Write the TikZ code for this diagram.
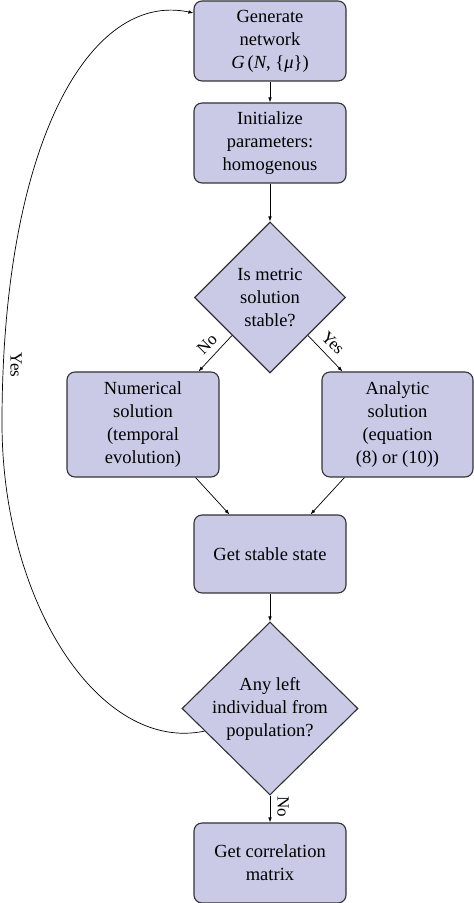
\documentclass[tikz,border=0pt]{standalone}
\usepackage{fontspec}
\setmainfont{Liberation Serif}
\usetikzlibrary{shapes.geometric,arrows.meta,calc}
\definecolor{boxfill}{RGB}{202,202,230}
\definecolor{boxline}{RGB}{50,50,55}
\begin{document}
\begin{tikzpicture}[x=1pt, y=1pt,
    every node/.style={font=\fontsize{18.5}{23}\selectfont},
    box/.style={draw=boxline, fill=boxfill, line width=1.1pt, rounded corners=8pt,
        align=center, minimum width=152pt, minimum height=80pt, inner sep=2pt},
    decision/.style={diamond, draw=boxline, fill=boxfill, line width=1.1pt,
        align=center, aspect=1, inner sep=-5pt},
    flow/.style={draw=black, line width=0.7pt, -{Latex[length=5pt,width=3.6pt]}},
    lbl/.style={font=\fontsize{17}{20}\selectfont, inner sep=0pt}]
    \useasboundingbox (0,0) rectangle (474,903);
    \node[box] (gen) at (270,862)
        {Generate\\network\\{\itshape G}\,({\itshape N}, \{{\itshape μ}\})};
    \node[box] (init) at (270,760) {Initialize\\parameters:\\homogenous};
    \node[decision, minimum width=151pt, minimum height=151pt] (metric) at (270,605.5)
        {Is metric\\solution\\stable?};
    \node[box, minimum height=105pt] (num) at (143,478.5)
        {Numerical\\solution\\(temporal\\evolution)};
    \node[box, minimum width=151pt, minimum height=105pt] (ana) at (397.5,478.5)
        {Analytic\\solution\\(equation\\(8) or (10))};
    \node[box, minimum height=78pt] (stable) at (270,349) {Get stable state};
    \node[decision, minimum width=176pt, minimum height=173pt] (left) at (270,194.5)
        {Any left\\individual from\\population?};
    \node[box] (corr) at (270,40) {Get correlation\\matrix};
    % connectors
    \draw[flow] (gen) -- (init);
    \draw[flow] (init) -- (metric);
    \draw[flow] (metric.south west) -- ([xshift=-21pt]num.north east);
    \draw[flow] (metric.south east) -- ([xshift=21pt]ana.north west);
    \draw[flow] ([xshift=-24pt]num.south east) -- ([xshift=36pt]stable.north west);
    \draw[flow] ([xshift=23pt]ana.south west) -- ([xshift=-36pt]stable.north east);
    \draw[flow] (stable) -- (left);
    \draw[flow] (left) -- (corr);
    \coordinate (loopstart) at ($(left.west)!0.26!(left.south)$);
    \coordinate (loopend) at ([yshift=28pt]gen.west);
    \draw[flow] (loopstart) .. controls (100,150) and (2,300) .. (2,480)
        .. controls (2,760) and (90,912) .. (loopend);
    % labels
    \node[lbl, rotate=45] (nolbl) at (207,559) {No};
    \node[lbl, rotate=-45] (yeslbl) at (333,560) {Yes};
    \node[lbl, rotate=-90] (nolbl2) at (283,96) {No};
    \node[lbl, rotate=-90] (yesloop) at (16,538) {Yes};
\end{tikzpicture}
\end{document}
